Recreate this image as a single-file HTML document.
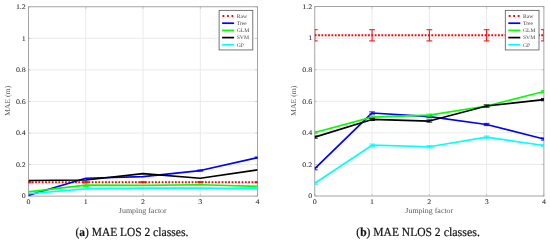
<!DOCTYPE html>
<html><head><meta charset="utf-8"><style>
html,body{margin:0;padding:0;background:#fff;}
svg{display:block;text-rendering:geometricPrecision}
.tk{font-family:"Liberation Serif",serif;font-size:7.0px;fill:#2a2a2a;stroke:#2a2a2a;stroke-width:0.05px}
.lb{font-family:"Liberation Serif",serif;font-size:7.6px;fill:#5a5a5a}
.lg{font-family:"Liberation Serif",serif;font-size:5.4px;fill:#444}
.cap{font-family:"Liberation Serif",serif;font-size:12.3px;fill:#111;stroke:#111;stroke-width:0.2px}
</style></head><body>
<svg width="550" height="243" viewBox="0 0 550 243">
<rect width="550" height="243" fill="#fff"/>
<line x1="85.74" y1="6.8" x2="85.74" y2="196.1" stroke="#eaeaea" stroke-width="1.0"/>
<line x1="143.03" y1="6.8" x2="143.03" y2="196.1" stroke="#eaeaea" stroke-width="1.0"/>
<line x1="200.31" y1="6.8" x2="200.31" y2="196.1" stroke="#eaeaea" stroke-width="1.0"/>
<line x1="28.45" y1="164.55" x2="257.6" y2="164.55" stroke="#eaeaea" stroke-width="1.0"/>
<line x1="28.45" y1="133.00" x2="257.6" y2="133.00" stroke="#eaeaea" stroke-width="1.0"/>
<line x1="28.45" y1="101.45" x2="257.6" y2="101.45" stroke="#eaeaea" stroke-width="1.0"/>
<line x1="28.45" y1="69.90" x2="257.6" y2="69.90" stroke="#eaeaea" stroke-width="1.0"/>
<line x1="28.45" y1="38.35" x2="257.6" y2="38.35" stroke="#eaeaea" stroke-width="1.0"/>
<rect x="28.45" y="6.8" width="229.15000000000003" height="189.29999999999998" fill="none" stroke="#8e8e8e" stroke-width="0.8"/>
<line x1="28.45" y1="196.1" x2="28.45" y2="193.79999999999998" stroke="#999" stroke-width="0.4"/>
<line x1="28.45" y1="6.8" x2="28.45" y2="9.1" stroke="#999" stroke-width="0.4"/>
<text transform="translate(28.45,203.60) scale(1.14,1)" text-anchor="middle" class="tk">0</text>
<line x1="85.74" y1="196.1" x2="85.74" y2="193.79999999999998" stroke="#999" stroke-width="0.4"/>
<line x1="85.74" y1="6.8" x2="85.74" y2="9.1" stroke="#999" stroke-width="0.4"/>
<text transform="translate(85.74,203.60) scale(1.14,1)" text-anchor="middle" class="tk">1</text>
<line x1="143.03" y1="196.1" x2="143.03" y2="193.79999999999998" stroke="#999" stroke-width="0.4"/>
<line x1="143.03" y1="6.8" x2="143.03" y2="9.1" stroke="#999" stroke-width="0.4"/>
<text transform="translate(143.03,203.60) scale(1.14,1)" text-anchor="middle" class="tk">2</text>
<line x1="200.31" y1="196.1" x2="200.31" y2="193.79999999999998" stroke="#999" stroke-width="0.4"/>
<line x1="200.31" y1="6.8" x2="200.31" y2="9.1" stroke="#999" stroke-width="0.4"/>
<text transform="translate(200.31,203.60) scale(1.14,1)" text-anchor="middle" class="tk">3</text>
<line x1="257.60" y1="196.1" x2="257.60" y2="193.79999999999998" stroke="#999" stroke-width="0.4"/>
<line x1="257.60" y1="6.8" x2="257.60" y2="9.1" stroke="#999" stroke-width="0.4"/>
<text transform="translate(257.60,203.60) scale(1.14,1)" text-anchor="middle" class="tk">4</text>
<line x1="28.45" y1="196.10" x2="30.75" y2="196.10" stroke="#999" stroke-width="0.4"/>
<line x1="257.6" y1="196.10" x2="255.3" y2="196.10" stroke="#999" stroke-width="0.4"/>
<text transform="translate(25.85,198.40) scale(1.14,1)" text-anchor="end" class="tk">0</text>
<line x1="28.45" y1="164.55" x2="30.75" y2="164.55" stroke="#999" stroke-width="0.4"/>
<line x1="257.6" y1="164.55" x2="255.3" y2="164.55" stroke="#999" stroke-width="0.4"/>
<text transform="translate(25.85,166.85) scale(1.14,1)" text-anchor="end" class="tk">0.2</text>
<line x1="28.45" y1="133.00" x2="30.75" y2="133.00" stroke="#999" stroke-width="0.4"/>
<line x1="257.6" y1="133.00" x2="255.3" y2="133.00" stroke="#999" stroke-width="0.4"/>
<text transform="translate(25.85,135.30) scale(1.14,1)" text-anchor="end" class="tk">0.4</text>
<line x1="28.45" y1="101.45" x2="30.75" y2="101.45" stroke="#999" stroke-width="0.4"/>
<line x1="257.6" y1="101.45" x2="255.3" y2="101.45" stroke="#999" stroke-width="0.4"/>
<text transform="translate(25.85,103.75) scale(1.14,1)" text-anchor="end" class="tk">0.6</text>
<line x1="28.45" y1="69.90" x2="30.75" y2="69.90" stroke="#999" stroke-width="0.4"/>
<line x1="257.6" y1="69.90" x2="255.3" y2="69.90" stroke="#999" stroke-width="0.4"/>
<text transform="translate(25.85,72.20) scale(1.14,1)" text-anchor="end" class="tk">0.8</text>
<line x1="28.45" y1="38.35" x2="30.75" y2="38.35" stroke="#999" stroke-width="0.4"/>
<line x1="257.6" y1="38.35" x2="255.3" y2="38.35" stroke="#999" stroke-width="0.4"/>
<text transform="translate(25.85,40.65) scale(1.14,1)" text-anchor="end" class="tk">1</text>
<line x1="28.45" y1="6.80" x2="30.75" y2="6.80" stroke="#999" stroke-width="0.4"/>
<line x1="257.6" y1="6.80" x2="255.3" y2="6.80" stroke="#999" stroke-width="0.4"/>
<text transform="translate(25.85,9.10) scale(1.14,1)" text-anchor="end" class="tk">1.2</text>
<text transform="translate(142.8,212.70) scale(1.046,1)" text-anchor="middle" class="lb">Jumping factor</text>
<text transform="translate(10.05,100.95) rotate(-90) scale(1.02,1)" text-anchor="middle" class="lb">MAE (m)</text>
<clipPath id="c28"><rect x="28.45" y="6.8" width="229.15000000000003" height="189.29999999999998"/></clipPath><g clip-path="url(#c28)">
<polyline points="28.45,182.22 85.74,182.22 143.03,182.22 200.31,182.22 257.60,182.22" fill="none" stroke="#ff0000" stroke-width="2.0" stroke-dasharray="1.8,1.53"/>
<path d="M28.45 181.74V182.69M25.55 181.74h5.8M25.55 182.69h5.8" stroke="#ff0000" stroke-width="1.0" fill="none"/>
<path d="M85.74 181.74V182.69M82.84 181.74h5.8M82.84 182.69h5.8" stroke="#ff0000" stroke-width="1.0" fill="none"/>
<path d="M143.03 181.74V182.69M140.12 181.74h5.8M140.12 182.69h5.8" stroke="#ff0000" stroke-width="1.0" fill="none"/>
<path d="M200.31 181.74V182.69M197.41 181.74h5.8M197.41 182.69h5.8" stroke="#ff0000" stroke-width="1.0" fill="none"/>
<path d="M257.60 181.74V182.69M254.70 181.74h5.8M254.70 182.69h5.8" stroke="#ff0000" stroke-width="1.0" fill="none"/>
<polyline points="28.45,195.31 85.74,178.27 143.03,176.70 200.31,170.54 257.60,157.61" fill="none" stroke="#0000ff" stroke-width="1.7" stroke-linejoin="round"/>
<path d="M200.31 169.91V171.18M197.41 169.91h5.8M197.41 171.18h5.8" stroke="#0000ff" stroke-width="0.9" fill="none"/>
<path d="M257.60 156.98V158.24M254.70 156.98h5.8M254.70 158.24h5.8" stroke="#0000ff" stroke-width="0.9" fill="none"/>
<polyline points="28.45,191.84 85.74,185.06 143.03,185.37 200.31,184.74 257.60,186.32" fill="none" stroke="#00ff00" stroke-width="1.7" stroke-linejoin="round"/>
<path d="M85.74 183.64V186.48M82.84 183.64h5.8M82.84 186.48h5.8" stroke="#00ff00" stroke-width="0.9" fill="none"/>
<polyline points="28.45,180.48 85.74,180.01 143.03,173.70 200.31,178.27 257.60,169.91" fill="none" stroke="#000000" stroke-width="1.7" stroke-linejoin="round"/>
<polyline points="28.45,193.73 85.74,188.84 143.03,188.21 200.31,188.21 257.60,188.53" fill="none" stroke="#00ffff" stroke-width="1.7" stroke-linejoin="round"/>
</g>
<rect x="219.1" y="10.35" width="33.7" height="39.6" fill="#fff" stroke="#555" stroke-width="0.8"/>
<line x1="222.10" y1="16.00" x2="234.10" y2="16.00" stroke="#ff0000" stroke-width="2.0" stroke-dasharray="1.8,2.7" stroke-dashoffset="-0.4"/>
<text transform="translate(236.70,17.70) scale(1.05,1)" class="lg">Raw</text>
<line x1="222.10" y1="23.20" x2="234.10" y2="23.20" stroke="#0000ff" stroke-width="1.7"/>
<text transform="translate(236.70,24.90) scale(1.05,1)" class="lg">Tree</text>
<line x1="222.10" y1="30.40" x2="234.10" y2="30.40" stroke="#00ff00" stroke-width="1.7"/>
<text transform="translate(236.70,32.10) scale(1.05,1)" class="lg">GLM</text>
<line x1="222.10" y1="37.60" x2="234.10" y2="37.60" stroke="#000000" stroke-width="1.7"/>
<text transform="translate(236.70,39.30) scale(1.05,1)" class="lg">SVM</text>
<line x1="222.10" y1="44.80" x2="234.10" y2="44.80" stroke="#00ffff" stroke-width="1.7"/>
<text transform="translate(236.70,46.50) scale(1.05,1)" class="lg">GP</text>
<line x1="372.07" y1="6.6" x2="372.07" y2="196.0" stroke="#eaeaea" stroke-width="1.0"/>
<line x1="429.35" y1="6.6" x2="429.35" y2="196.0" stroke="#eaeaea" stroke-width="1.0"/>
<line x1="486.62" y1="6.6" x2="486.62" y2="196.0" stroke="#eaeaea" stroke-width="1.0"/>
<line x1="314.8" y1="164.43" x2="543.9" y2="164.43" stroke="#eaeaea" stroke-width="1.0"/>
<line x1="314.8" y1="132.87" x2="543.9" y2="132.87" stroke="#eaeaea" stroke-width="1.0"/>
<line x1="314.8" y1="101.30" x2="543.9" y2="101.30" stroke="#eaeaea" stroke-width="1.0"/>
<line x1="314.8" y1="69.73" x2="543.9" y2="69.73" stroke="#eaeaea" stroke-width="1.0"/>
<line x1="314.8" y1="38.17" x2="543.9" y2="38.17" stroke="#eaeaea" stroke-width="1.0"/>
<rect x="314.8" y="6.6" width="229.09999999999997" height="189.4" fill="none" stroke="#8e8e8e" stroke-width="0.8"/>
<line x1="314.80" y1="196.0" x2="314.80" y2="193.7" stroke="#999" stroke-width="0.4"/>
<line x1="314.80" y1="6.6" x2="314.80" y2="8.899999999999999" stroke="#999" stroke-width="0.4"/>
<text transform="translate(314.80,203.50) scale(1.14,1)" text-anchor="middle" class="tk">0</text>
<line x1="372.07" y1="196.0" x2="372.07" y2="193.7" stroke="#999" stroke-width="0.4"/>
<line x1="372.07" y1="6.6" x2="372.07" y2="8.899999999999999" stroke="#999" stroke-width="0.4"/>
<text transform="translate(372.07,203.50) scale(1.14,1)" text-anchor="middle" class="tk">1</text>
<line x1="429.35" y1="196.0" x2="429.35" y2="193.7" stroke="#999" stroke-width="0.4"/>
<line x1="429.35" y1="6.6" x2="429.35" y2="8.899999999999999" stroke="#999" stroke-width="0.4"/>
<text transform="translate(429.35,203.50) scale(1.14,1)" text-anchor="middle" class="tk">2</text>
<line x1="486.62" y1="196.0" x2="486.62" y2="193.7" stroke="#999" stroke-width="0.4"/>
<line x1="486.62" y1="6.6" x2="486.62" y2="8.899999999999999" stroke="#999" stroke-width="0.4"/>
<text transform="translate(486.62,203.50) scale(1.14,1)" text-anchor="middle" class="tk">3</text>
<line x1="543.90" y1="196.0" x2="543.90" y2="193.7" stroke="#999" stroke-width="0.4"/>
<line x1="543.90" y1="6.6" x2="543.90" y2="8.899999999999999" stroke="#999" stroke-width="0.4"/>
<text transform="translate(543.90,203.50) scale(1.14,1)" text-anchor="middle" class="tk">4</text>
<line x1="314.8" y1="196.00" x2="317.1" y2="196.00" stroke="#999" stroke-width="0.4"/>
<line x1="543.9" y1="196.00" x2="541.6" y2="196.00" stroke="#999" stroke-width="0.4"/>
<text transform="translate(312.20,198.30) scale(1.14,1)" text-anchor="end" class="tk">0</text>
<line x1="314.8" y1="164.43" x2="317.1" y2="164.43" stroke="#999" stroke-width="0.4"/>
<line x1="543.9" y1="164.43" x2="541.6" y2="164.43" stroke="#999" stroke-width="0.4"/>
<text transform="translate(312.20,166.73) scale(1.14,1)" text-anchor="end" class="tk">0.2</text>
<line x1="314.8" y1="132.87" x2="317.1" y2="132.87" stroke="#999" stroke-width="0.4"/>
<line x1="543.9" y1="132.87" x2="541.6" y2="132.87" stroke="#999" stroke-width="0.4"/>
<text transform="translate(312.20,135.17) scale(1.14,1)" text-anchor="end" class="tk">0.4</text>
<line x1="314.8" y1="101.30" x2="317.1" y2="101.30" stroke="#999" stroke-width="0.4"/>
<line x1="543.9" y1="101.30" x2="541.6" y2="101.30" stroke="#999" stroke-width="0.4"/>
<text transform="translate(312.20,103.60) scale(1.14,1)" text-anchor="end" class="tk">0.6</text>
<line x1="314.8" y1="69.73" x2="317.1" y2="69.73" stroke="#999" stroke-width="0.4"/>
<line x1="543.9" y1="69.73" x2="541.6" y2="69.73" stroke="#999" stroke-width="0.4"/>
<text transform="translate(312.20,72.03) scale(1.14,1)" text-anchor="end" class="tk">0.8</text>
<line x1="314.8" y1="38.17" x2="317.1" y2="38.17" stroke="#999" stroke-width="0.4"/>
<line x1="543.9" y1="38.17" x2="541.6" y2="38.17" stroke="#999" stroke-width="0.4"/>
<text transform="translate(312.20,40.47) scale(1.14,1)" text-anchor="end" class="tk">1</text>
<line x1="314.8" y1="6.60" x2="317.1" y2="6.60" stroke="#999" stroke-width="0.4"/>
<line x1="543.9" y1="6.60" x2="541.6" y2="6.60" stroke="#999" stroke-width="0.4"/>
<text transform="translate(312.20,8.90) scale(1.14,1)" text-anchor="end" class="tk">1.2</text>
<text transform="translate(429.3,212.60) scale(1.046,1)" text-anchor="middle" class="lb">Jumping factor</text>
<text transform="translate(296.40,100.80) rotate(-90) scale(1.02,1)" text-anchor="middle" class="lb">MAE (m)</text>
<clipPath id="c314"><rect x="314.8" y="6.6" width="229.09999999999997" height="189.4"/></clipPath><g clip-path="url(#c314)">
<polyline points="314.80,35.33 372.07,35.33 429.35,35.33 486.62,35.33 543.90,35.33" fill="none" stroke="#ff0000" stroke-width="2.0" stroke-dasharray="1.8,1.53"/>
<path d="M314.80 29.72V40.93M311.90 29.72h5.8M311.90 40.93h5.8" stroke="#ff0000" stroke-width="1.0" fill="none"/>
<path d="M372.07 29.72V40.93M369.18 29.72h5.8M369.18 40.93h5.8" stroke="#ff0000" stroke-width="1.0" fill="none"/>
<path d="M429.35 29.72V40.93M426.45 29.72h5.8M426.45 40.93h5.8" stroke="#ff0000" stroke-width="1.0" fill="none"/>
<path d="M486.62 29.72V40.93M483.73 29.72h5.8M483.73 40.93h5.8" stroke="#ff0000" stroke-width="1.0" fill="none"/>
<path d="M543.90 29.72V40.93M541.00 29.72h5.8M541.00 40.93h5.8" stroke="#ff0000" stroke-width="1.0" fill="none"/>
<polyline points="314.80,168.69 372.07,112.98 429.35,116.61 486.62,124.50 543.90,139.02" fill="none" stroke="#0000ff" stroke-width="1.7" stroke-linejoin="round"/>
<path d="M314.80 167.59V169.80M311.90 167.59h5.8M311.90 169.80h5.8" stroke="#0000ff" stroke-width="0.9" fill="none"/>
<path d="M372.07 111.87V114.08M369.18 111.87h5.8M369.18 114.08h5.8" stroke="#0000ff" stroke-width="0.9" fill="none"/>
<path d="M429.35 115.50V117.71M426.45 115.50h5.8M426.45 117.71h5.8" stroke="#0000ff" stroke-width="0.9" fill="none"/>
<path d="M486.62 123.40V125.61M483.73 123.40h5.8M483.73 125.61h5.8" stroke="#0000ff" stroke-width="0.9" fill="none"/>
<path d="M543.90 137.92V140.13M541.00 137.92h5.8M541.00 140.13h5.8" stroke="#0000ff" stroke-width="0.9" fill="none"/>
<polyline points="314.80,132.55 372.07,117.08 429.35,115.19 486.62,106.03 543.90,91.51" fill="none" stroke="#00ff00" stroke-width="1.7" stroke-linejoin="round"/>
<path d="M314.80 131.45V133.66M311.90 131.45h5.8M311.90 133.66h5.8" stroke="#00ff00" stroke-width="0.9" fill="none"/>
<path d="M372.07 115.98V118.19M369.18 115.98h5.8M369.18 118.19h5.8" stroke="#00ff00" stroke-width="0.9" fill="none"/>
<path d="M429.35 114.08V116.29M426.45 114.08h5.8M426.45 116.29h5.8" stroke="#00ff00" stroke-width="0.9" fill="none"/>
<path d="M486.62 104.93V107.14M483.73 104.93h5.8M483.73 107.14h5.8" stroke="#00ff00" stroke-width="0.9" fill="none"/>
<path d="M543.90 90.41V92.62M541.00 90.41h5.8M541.00 92.62h5.8" stroke="#00ff00" stroke-width="0.9" fill="none"/>
<polyline points="314.80,137.13 372.07,119.45 429.35,121.03 486.62,106.03 543.90,99.56" fill="none" stroke="#000000" stroke-width="1.7" stroke-linejoin="round"/>
<path d="M314.80 136.02V138.23M311.90 136.02h5.8M311.90 138.23h5.8" stroke="#000000" stroke-width="0.9" fill="none"/>
<path d="M372.07 118.35V120.56M369.18 118.35h5.8M369.18 120.56h5.8" stroke="#000000" stroke-width="0.9" fill="none"/>
<path d="M429.35 119.92V122.13M426.45 119.92h5.8M426.45 122.13h5.8" stroke="#000000" stroke-width="0.9" fill="none"/>
<path d="M486.62 104.93V107.14M483.73 104.93h5.8M483.73 107.14h5.8" stroke="#000000" stroke-width="0.9" fill="none"/>
<path d="M543.90 98.46V100.67M541.00 98.46h5.8M541.00 100.67h5.8" stroke="#000000" stroke-width="0.9" fill="none"/>
<polyline points="314.80,183.22 372.07,145.18 429.35,146.76 486.62,137.13 543.90,145.49" fill="none" stroke="#00ffff" stroke-width="1.7" stroke-linejoin="round"/>
<path d="M314.80 182.11V184.32M311.90 182.11h5.8M311.90 184.32h5.8" stroke="#00ffff" stroke-width="0.9" fill="none"/>
<path d="M372.07 144.07V146.28M369.18 144.07h5.8M369.18 146.28h5.8" stroke="#00ffff" stroke-width="0.9" fill="none"/>
<path d="M429.35 145.65V147.86M426.45 145.65h5.8M426.45 147.86h5.8" stroke="#00ffff" stroke-width="0.9" fill="none"/>
<path d="M486.62 136.02V138.23M483.73 136.02h5.8M483.73 138.23h5.8" stroke="#00ffff" stroke-width="0.9" fill="none"/>
<path d="M543.90 144.39V146.60M541.00 144.39h5.8M541.00 146.60h5.8" stroke="#00ffff" stroke-width="0.9" fill="none"/>
</g>
<rect x="505.3" y="10.35" width="33.7" height="39.6" fill="#fff" stroke="#555" stroke-width="0.8"/>
<line x1="508.30" y1="16.00" x2="520.30" y2="16.00" stroke="#ff0000" stroke-width="2.0" stroke-dasharray="1.8,2.7" stroke-dashoffset="-0.4"/>
<text transform="translate(522.90,17.70) scale(1.05,1)" class="lg">Raw</text>
<line x1="508.30" y1="23.20" x2="520.30" y2="23.20" stroke="#0000ff" stroke-width="1.7"/>
<text transform="translate(522.90,24.90) scale(1.05,1)" class="lg">Tree</text>
<line x1="508.30" y1="30.40" x2="520.30" y2="30.40" stroke="#00ff00" stroke-width="1.7"/>
<text transform="translate(522.90,32.10) scale(1.05,1)" class="lg">GLM</text>
<line x1="508.30" y1="37.60" x2="520.30" y2="37.60" stroke="#000000" stroke-width="1.7"/>
<text transform="translate(522.90,39.30) scale(1.05,1)" class="lg">SVM</text>
<line x1="508.30" y1="44.80" x2="520.30" y2="44.80" stroke="#00ffff" stroke-width="1.7"/>
<text transform="translate(522.90,46.50) scale(1.05,1)" class="lg">GP</text>
<text x="75.5" y="236" class="cap" textLength="74.8" lengthAdjust="spacingAndGlyphs">(<tspan font-weight="bold">a</tspan>) MAE LOS 2</text>
<text x="153.1" y="236" class="cap" textLength="35.4" lengthAdjust="spacingAndGlyphs">classes.</text>
<text x="356.3" y="236" class="cap" textLength="84.3" lengthAdjust="spacingAndGlyphs">(<tspan font-weight="bold">b</tspan>) MAE NLOS 2</text>
<text x="443.7" y="236" class="cap" textLength="36.2" lengthAdjust="spacingAndGlyphs">classes.</text>
</svg>
</body></html>
